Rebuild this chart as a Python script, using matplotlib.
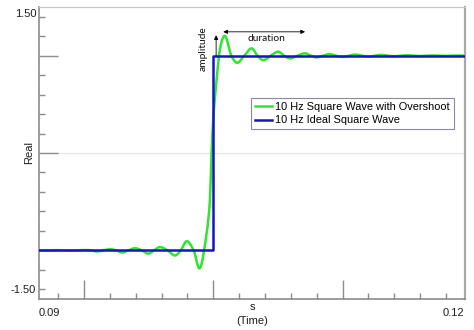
import matplotlib
matplotlib.use("Agg")
import matplotlib.pyplot as plt
from matplotlib.path import Path
from matplotlib.patches import PathPatch
from matplotlib.lines import Line2D
from matplotlib.ticker import MultipleLocator

# ---- data -------------------------------------------------------------
# time range of the view (s)
x_range = [0.08649, 0.11944]
y_range = [-1.5, 1.5]

# ideal 10 Hz square wave around the rising edge at t = 0.1 s
ideal_t = [0.08649, 0.1000, 0.1000, 0.11944]
ideal_v = [-1.0, -1.0, 1.0, 1.0]

# square wave with overshoot (ringing before and after the edge)
ring_t = [0.08649, 0.0870, 0.08750, 0.0880, 0.08850, 0.0890, 0.08950, 0.0900,
          0.09050, 0.09101, 0.09151, 0.09201, 0.09248, 0.09294, 0.09344,
          0.09394, 0.09446, 0.09497, 0.09542, 0.09587, 0.09646, 0.09704,
          0.09749, 0.09794, 0.09848, 0.09897, 0.09949, 0.09974, 0.09987,
          0.10000, 0.10026, 0.10052, 0.10091, 0.10140, 0.10186, 0.10240,
          0.10297, 0.10342, 0.10387, 0.10445, 0.10503, 0.10548, 0.10594,
          0.10652, 0.10710, 0.10755, 0.10800, 0.10850, 0.10900, 0.10950,
          0.11000, 0.11050, 0.11100, 0.11150, 0.11200, 0.11250, 0.11300,
          0.11350, 0.11400, 0.11450, 0.11500, 0.11550, 0.11600, 0.11650,
          0.11700, 0.11750, 0.11800, 0.11850, 0.11900, 0.11944]
ring_v = [-1.0, -1.002, -1.0, -0.998, -1.0, -1.003, -1.0, -0.997,
          -1.0, -1.012, -1.0, -0.988, -1.0, -1.022, -1.0,
          -0.978, -1.0, -1.034, -1.0, -0.966, -1.0, -1.053,
          -1.0, -0.906, -1.0, -1.183, -0.82, -0.48, 0.0,
          0.35, 0.76, 1.07, 1.203, 1.0, 0.927, 1.0,
          1.075, 1.0, 0.954, 1.0, 1.041, 1.0, 0.972,
          1.0, 1.024, 1.0, 0.982, 1.0, 1.016, 1.0,
          0.987, 1.0, 1.012, 1.0, 0.991, 1.0, 1.008,
          1.0, 0.994, 1.0, 1.004, 1.0, 0.997, 1.0,
          1.002, 1.0, 0.998, 1.0, 1.001, 1.0]

series_labels = ["10 Hz Square Wave with Overshoot", "10 Hz Ideal Square Wave"]
x_end_labels = ["0.09", "0.12"]
y_end_labels = ["-1.50", "1.50"]
x_title = ["s", "(Time)"]
y_title = "Real"

GREEN = "#2fe62f"
BLUE = "#1414c8"
GRAY = "#8c8c8c"

plt.rcParams["font.family"] = ["Liberation Sans", "DejaVu Sans"]


def smooth_path(xs, ys):
    """Cubic Hermite curve through the points, expressed as Bezier segments."""
    n = len(xs)
    slopes = []
    for i in range(n):
        a = max(i - 1, 0)
        b = min(i + 1, n - 1)
        slopes.append((ys[b] - ys[a]) / (xs[b] - xs[a]))
    verts = [(xs[0], ys[0])]
    codes = [Path.MOVETO]
    for i in range(n - 1):
        h = xs[i + 1] - xs[i]
        verts += [(xs[i] + h / 3, ys[i] + slopes[i] * h / 3),
                  (xs[i + 1] - h / 3, ys[i + 1] - slopes[i + 1] * h / 3),
                  (xs[i + 1], ys[i + 1])]
        codes += [Path.CURVE4] * 3
    return Path(verts, codes)


fig = plt.figure(figsize=(4.74, 3.30), dpi=100)
ax = fig.add_axes([38.7 / 474, 31 / 330, (464.5 - 38.7) / 474, (299 - 7) / 330])
ax.set_xlim(*x_range)
ax.set_ylim(*y_range)

# faint zero line
ax.axhline(0, color="#e6e6e6", lw=0.8, zorder=0)

# overshooting wave
ax.add_patch(PathPatch(smooth_path(ring_t, ring_v), fill=False,
                       edgecolor=GREEN, lw=1.8, zorder=2,
                       capstyle="round", joinstyle="round"))
# ideal wave on top
ax.plot(ideal_t, ideal_v, color=BLUE, lw=1.8, zorder=3)

# spines
for side in ("left", "bottom"):
    ax.spines[side].set_color(GRAY)
    ax.spines[side].set_linewidth(1.2)
ax.spines["right"].set_color("#a8a8a8")
ax.spines["right"].set_linewidth(1.6)
ax.spines["top"].set_color("#c8c8c8")
ax.spines["top"].set_linewidth(0.9)

# ticks: inward, long majors and short minors, no numeric labels
ax.xaxis.set_major_locator(MultipleLocator(0.01))
ax.xaxis.set_minor_locator(MultipleLocator(0.002))
ax.yaxis.set_major_locator(MultipleLocator(1.0))
ax.yaxis.set_minor_locator(MultipleLocator(0.2))
ax.tick_params(which="both", direction="in", color=GRAY, width=1.0,
               labelbottom=False, labelleft=False, top=False, right=False)
ax.tick_params(which="major", length=14)
ax.tick_params(which="minor", length=4)

# end-of-axis labels
fs = 8.0
tc = "#1e1e1e"
ax.text(0.0, -0.03, x_end_labels[0], transform=ax.transAxes,
        ha="left", va="top", fontsize=fs, color=tc)
ax.text(1.0, -0.03, x_end_labels[1], transform=ax.transAxes,
        ha="right", va="top", fontsize=fs, color=tc)
ax.text(-0.006, 0.976, y_end_labels[1], transform=ax.transAxes,
        ha="right", va="center", fontsize=fs, color=tc)
ax.text(-0.006, 0.03, y_end_labels[0], transform=ax.transAxes,
        ha="right", va="center", fontsize=fs, color=tc)

fig.text(252 / 474, 1 - 307 / 330, x_title[0], ha="center", va="center",
         fontsize=fs, color=tc)
fig.text(252 / 474, 1 - 321 / 330, x_title[1], ha="center", va="center",
         fontsize=fs, color=tc)
fig.text(29.5 / 474, 1 - 152 / 330, y_title, ha="center", va="center",
         rotation=90, fontsize=fs, color=tc)

# legend
handles = [Line2D([], [], color=GREEN, lw=1.8), Line2D([], [], color=BLUE, lw=1.8)]
leg = ax.legend(handles, series_labels, loc="upper left",
                bbox_to_anchor=((250.7 - 38.7) / 425.8, (299 - 98.3) / 292),
                borderaxespad=0, fontsize=7.9, frameon=True, fancybox=False,
                handlelength=1.6, handletextpad=0.3, borderpad=0.35,
                labelspacing=0.3)
leg.get_frame().set_edgecolor("#8888a8")
leg.get_frame().set_linewidth(0.8)
leg.get_frame().set_alpha(1.0)

# annotations: amplitude and duration of the overshoot
ann_font = ["Lato", "DejaVu Sans"]
ax.annotate("", xy=(0.10022, 1.21), xytext=(0.10022, 1.0),
            arrowprops=dict(arrowstyle="-|>", color="black", lw=0.6,
                            mutation_scale=6, shrinkA=0, shrinkB=0))
ax.text(0.0992, 1.07, "amplitude", rotation=90, ha="center", va="center",
        fontsize=7.4, family=ann_font, color="#111111")
ax.annotate("", xy=(0.10077, 1.245), xytext=(0.10710, 1.245),
            arrowprops=dict(arrowstyle="<|-|>", color="black", lw=0.6,
                            mutation_scale=6, shrinkA=0, shrinkB=0))
ax.text(0.1041, 1.18, "duration", ha="center", va="center",
        fontsize=7.4, family=ann_font, color="#111111")

fig.savefig("out.png", dpi=100)
